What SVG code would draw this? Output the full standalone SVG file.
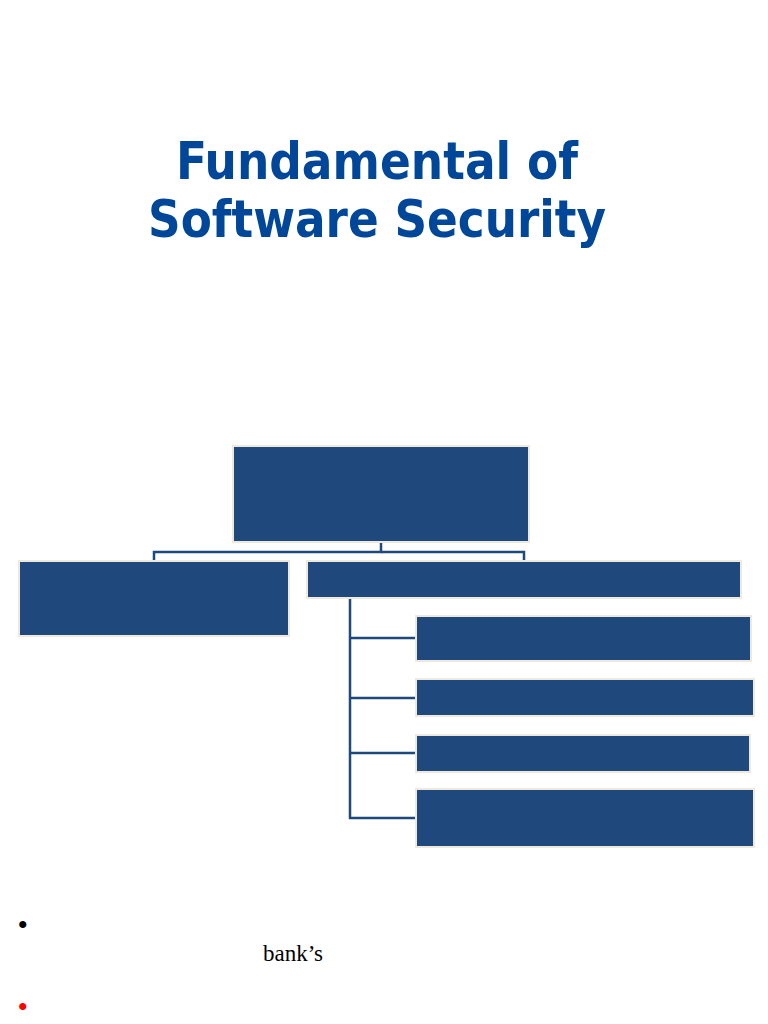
<svg xmlns="http://www.w3.org/2000/svg" width="768" height="1024" viewBox="0 0 768 1024">
<style>
.box{fill:#1F497D;stroke:#EEE9DC;stroke-width:2}
.conn{fill:none;stroke:#1F497D;stroke-width:2.5}
.title{font-family:"DejaVu Sans Condensed","DejaVu Sans",sans-serif;font-weight:bold;font-size:52px;fill:#00479A}
.body{font-family:"Liberation Serif",serif;font-size:23px;fill:#000}
.bullet{font-family:"Liberation Serif",serif;font-size:30px}
</style>
<rect width="768" height="1024" fill="#FFFFFF"/>
<g id="title">
<text class="title" x="176" y="179" textLength="402" lengthAdjust="spacingAndGlyphs">Fundamental of</text>
<text class="title" x="148" y="237" textLength="458" lengthAdjust="spacingAndGlyphs">Software Security</text>
</g>
<g id="connectors">
<path class="conn" d="M381,543 V552 H154 V560"/>
<path class="conn" d="M381,552 H524 V560"/>
<path class="conn" d="M350,599 V818 H415"/>
<path class="conn" d="M350,638 H415"/>
<path class="conn" d="M350,698 H415"/>
<path class="conn" d="M350,753 H415"/>
</g>
<g id="root"><rect class="box" x="233" y="446" width="296" height="96"/></g>
<g id="left"><rect class="box" x="19" y="561" width="270" height="75"/></g>
<g id="right"><rect class="box" x="307" y="561" width="434" height="37"/></g>
<g id="child1"><rect class="box" x="416" y="616" width="335" height="45"/></g>
<g id="child2"><rect class="box" x="416" y="679" width="338" height="37"/></g>
<g id="child3"><rect class="box" x="416" y="735" width="334" height="37"/></g>
<g id="child4"><rect class="box" x="416" y="789" width="338" height="58"/></g>
<g id="bullets">
<text class="bullet" x="17.5" y="934.5" fill="#000000">•</text>
<text class="body" x="263" y="961">bank’s</text>
<text class="bullet" x="17.5" y="1017" fill="#FF0000">•</text>
</g>
</svg>
